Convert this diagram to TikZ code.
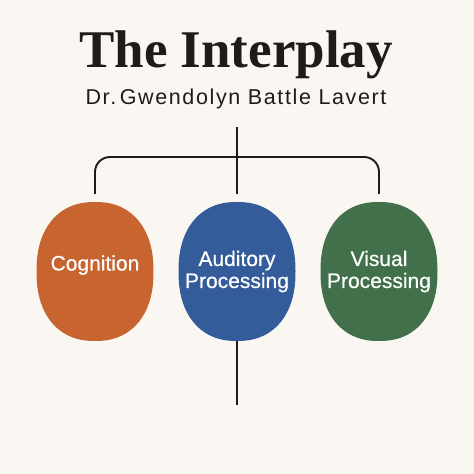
\documentclass[tikz,border=0pt]{standalone}
\usepackage{fontspec}
\setmainfont{Liberation Serif}
\setsansfont{Liberation Sans}
\newfontfamily\labelfont[FakeBold=0.5]{Liberation Sans}
\newfontfamily\subfont[LetterSpace=7.5]{Liberation Sans}
\definecolor{bg}{HTML}{FAF7F3}
\definecolor{cogc}{HTML}{C8642F}
\definecolor{audc}{HTML}{345C9A}
\definecolor{visc}{HTML}{41704A}
\definecolor{ink}{HTML}{1E1B1A}
\tikzset{
  blobbox/.style={minimum width=117pt, minimum height=139pt, inner sep=0pt, outer sep=0pt},
  lbl/.style={text=white, font=\labelfont\fontsize{21}{23}\selectfont, anchor=base, inner sep=0pt},
  conn/.style={draw=ink, line width=1.9pt},
}
\newcommand{\blobshape}[3]{%
  \fill[#3] plot[domain=0:360, samples=121, smooth cycle, variable=\t]
    ({#1+58.5*sign(cos(\t))*pow(abs(cos(\t)),0.88)},{#2+69.5*sign(sin(\t))*pow(abs(sin(\t)),0.88)});}
\begin{document}
\begin{tikzpicture}[x=1pt,y=1pt]
\fill[bg] (0,0) rectangle (474,474);
\useasboundingbox (0,0) rectangle (474,474);
\node[font=\bfseries\fontsize{53}{60}\selectfont, text=ink, anchor=base] (title) at (236,406) {The Interplay};
\node[font=\subfont\fontsize{21.5}{24}\selectfont, text=ink, anchor=base] (sub) at (236,369) {Dr.\,Gwendolyn Battle Lavert};
\blobshape{95}{202.5}{cogc}
\blobshape{237}{202.5}{audc}
\blobshape{379}{202.5}{visc}
\node[blobbox] (cog) at (95,202.5) {};
\node[blobbox] (aud) at (237,202.5) {};
\node[blobbox] (vis) at (379,202.5) {};
\node[lbl] (cogl) at (95,203.5) {Cognition};
\node[lbl] (audl1) at (237,208) {Auditory};
\node[lbl] (audl2) at (237,186) {Processing};
\node[lbl] (visl1) at (379,208) {Visual};
\node[lbl] (visl2) at (379,186) {Processing};
\coordinate (top) at (237,347);
\coordinate (audtop) at (237,280);
\coordinate (end) at (237,69);
\coordinate (cogtop) at (95,280);
\coordinate (vistop) at (379,280);
\draw[conn] (top) -- (audtop);
\draw[conn, rounded corners=15pt] (cogtop) |- (237,317) -| (vistop);
\draw[conn] (aud.south) -- (end);
\end{tikzpicture}
\end{document}
